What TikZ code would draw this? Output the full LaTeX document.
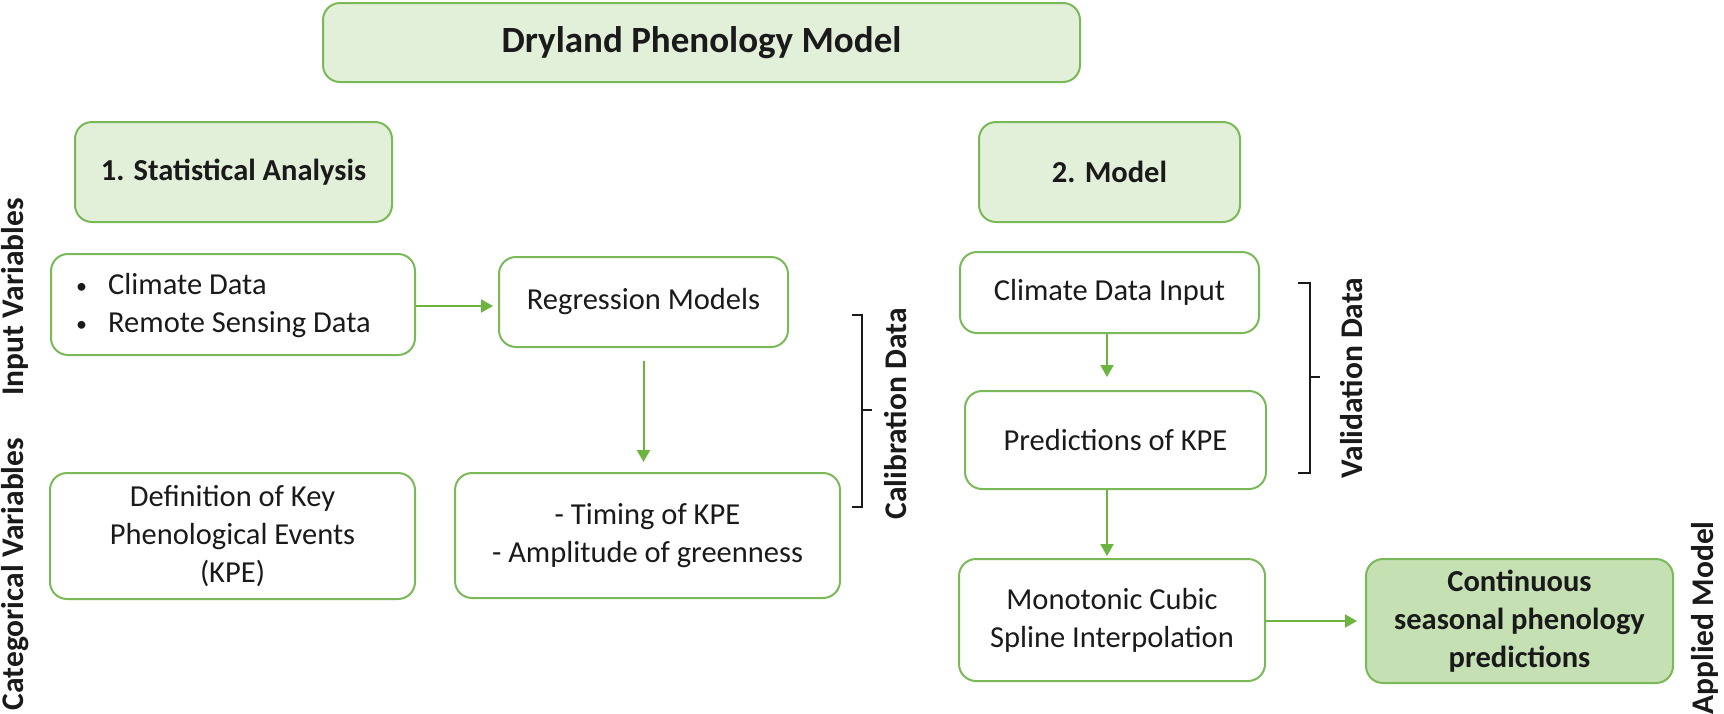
\documentclass[tikz,border=0pt]{standalone}
\usepackage{fontspec}
\setmainfont{Carlito}
\usetikzlibrary{arrows.meta}
\definecolor{gborder}{HTML}{7AB957}
\definecolor{gfill}{HTML}{E2EFD9}
\definecolor{gfilldark}{HTML}{C5E0B3}
\definecolor{garrow}{HTML}{6DB33F}
\definecolor{txt}{HTML}{1A1A1A}
\newcommand\fszbody{\fontsize{30.5}{38}\selectfont}
\newcommand\fsztitle{\fontsize{37}{44}\selectfont\bfseries}
\newcommand\fszside{\fontsize{31.5}{38}\selectfont\bfseries}
\newcommand\smallbul{\makebox[32pt][l]{\raisebox{1pt}{\fontsize{22}{22}\selectfont\textbullet}}}
\begin{document}
\begin{tikzpicture}[x=1pt,y=-1pt,
  box/.style={draw=gborder, line width=2pt, rounded corners=17pt, align=center,
    inner sep=0pt, text=txt, font=\fszbody},
  headbox/.style={box, fill=gfill, font=\fszbody\bfseries},
  arr/.style={draw=garrow, line width=2pt, -{Triangle[width=13pt,length=12pt]}},
  brace/.style={draw=txt, line width=1.6pt},
  side/.style={rotate=90, text=txt, font=\fszside, inner sep=0pt}]
\useasboundingbox (0,0) rectangle (1724,713);

\node[headbox, font=\fsztitle, minimum width=757pt, minimum height=79pt] (title) at (701.5,42.5) {Dryland Phenology Model};
\node[headbox, minimum width=317pt, minimum height=100pt] (stat) at (233.5,172) {1. Statistical Analysis};
\node[headbox, minimum width=261pt, minimum height=100pt] (model) at (1109.5,172) {2. Model};

\node[box, minimum width=364pt, minimum height=101pt] (climate) at (233,304.5) {};
\node[anchor=west, align=left, inner sep=0pt, text=txt, font=\fszbody] (climtext) at (76,306)
  {\smallbul Climate Data\\\smallbul Remote Sensing Data};
\node[box, minimum width=289pt, minimum height=90pt] (regr) at (643.5,302) {Regression Models};
\node[box, minimum width=365pt, minimum height=126pt] (defn) at (232.5,536) {Definition of Key\\Phenological Events\\(KPE)};
\node[box, minimum width=385pt, minimum height=125pt] (timing) at (647.5,535.5) {- Timing of KPE\\- Amplitude of greenness};

\node[box, minimum width=299pt, minimum height=81pt] (cdi) at (1109.5,292.5) {Climate Data Input};
\node[box, minimum width=301pt, minimum height=98pt] (pred) at (1115.5,440) {Predictions of KPE};
\node[box, minimum width=306pt, minimum height=122pt] (mono) at (1112,620) {Monotonic Cubic\\Spline Interpolation};
\node[headbox, fill=gfilldark, minimum width=307pt, minimum height=124pt] (cont) at (1519.5,621) {Continuous\\seasonal phenology\\predictions};

% connectors
\draw[arr, shorten >=5pt] (climate.east |- 0,306) -- (regr.west |- 0,306);
\draw[arr, shorten <=13pt, shorten >=10pt] (regr.south) -- (timing.north -| regr.south);
\draw[arr, shorten >=13pt] (cdi.south -| 1107,0) -- (pred.north -| 1107,0);
\draw[arr, shorten >=2pt] (pred.south -| 1107,0) -- (mono.north -| 1107,0);
\draw[arr, shorten >=8pt] (mono.east |- 0,621) -- (cont.west |- 0,621);

% brackets
\draw[brace] (852,315) -- (862,315) -- (862,507) -- (852,507);
\draw[brace] (862,410) -- (872,410);
\draw[brace] (1298,283) -- (1310,283) -- (1310,473) -- (1298,473);
\draw[brace] (1310,377) -- (1320,377);

% side labels
\node[side] (calib) at (896,414) {Calibration Data};
\node[side] (valid) at (1352,378) {Validation Data};
\node[side] (applied) at (1705,618) {Applied Model};
\node[side] (inputv) at (15,297) {Input Variables};
\node[side] (catv) at (15,574) {Categorical Variables};
\end{tikzpicture}
\end{document}
